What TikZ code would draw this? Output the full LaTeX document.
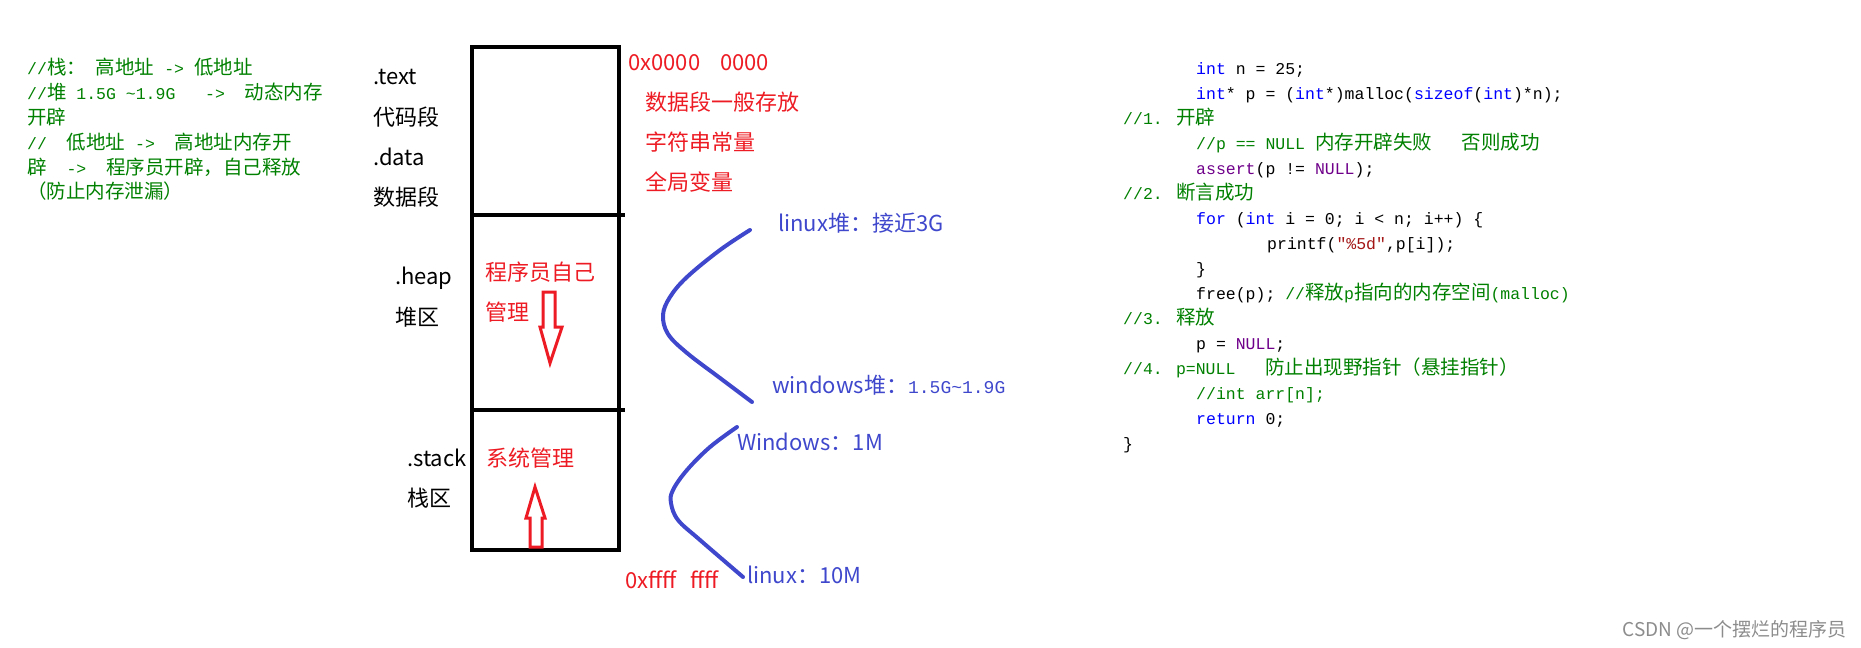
\documentclass[tikz,border=0pt]{standalone}
\usepackage{fontspec}
\newfontfamily\monof{Liberation Mono}
\newfontfamily\cjkf{Noto Sans CJK SC}
\definecolor{pblue}{RGB}{63,72,204}
\definecolor{pred}{RGB}{237,28,36}
\definecolor{cgreen}{RGB}{0,128,0}
\definecolor{kblue}{RGB}{0,0,255}
\definecolor{kpurple}{RGB}{111,0,138}
\definecolor{kstr}{RGB}{163,21,21}
\newcommand\zh[1]{{\cjkf\fontsize{19.5}{20}\selectfont #1}}
\newcommand\kw[1]{\textcolor{kblue}{#1}}
\newcommand\pp[1]{\textcolor{kpurple}{#1}}
\begin{document}
\begin{tikzpicture}[x=1pt,y=-1pt,
  code/.style={anchor=base west, inner sep=0pt, font=\monof\fontsize{16.5}{20}\selectfont},
  cmt/.style={code, text=cgreen},
  lbl/.style={anchor=west, inner sep=0pt, font=\cjkf\fontsize{22}{24}\selectfont},
  redlbl/.style={lbl, text=pred},
  bluelbl/.style={lbl, text=pblue},
  wall/.style={line width=4pt},
  curveline/.style={pblue, line width=4pt, line cap=round},
  hollow/.style={pred, line width=3pt, line join=miter}]
\useasboundingbox (0,0) rectangle (1861,648);

% left comments
\node[cmt] (l1) at (27,74) {//\zh{栈：}~\zh{高地址}~->~\zh{低地址}};
\node[cmt] (l2) at (27,99) {//\zh{堆}~1.5G~\textasciitilde1.9G~~~->~~\zh{动态内存}};
\node[cmt] (l3) at (27,124) {\zh{开辟}};
\node[cmt] (l4) at (27,149) {//~~\zh{低地址}~->~~\zh{高地址内存开}};
\node[cmt] (l5) at (27,174) {\zh{辟}~~->~~\zh{程序员开辟，自己释放}};
\node[cmt] (l6) at (27,198) {\zh{（防止内存泄漏）}};

% memory box
\draw[wall] (472,47) rectangle (619,550);
\draw[wall] (472,215) -- (625,215);
\draw[wall] (472,410) -- (625,410);

% black labels
\node[lbl] (ltext) at (373,77) {.text};
\node[lbl] (ldm) at (373,117) {代码段};
\node[lbl] (ldata) at (373,157) {.data};
\node[lbl] (lsj) at (373,197) {数据段};
\node[lbl] (lheap) at (395,278) {.heap};
\node[lbl] (ldq) at (395,317) {堆区};
\node[lbl] (lstack) at (407,458) {.stack};
\node[lbl] (lzq) at (407,498) {栈区};

% red labels
\node[redlbl] (a0) at (628,63) {0x0000\hspace{20pt}0000};
\node[redlbl] (r1) at (645,102) {数据段一般存放};
\node[redlbl] (r2) at (645,142) {字符串常量};
\node[redlbl] (r3) at (645,182) {全局变量};
\node[redlbl] (r4) at (485,272) {程序员自己};
\node[redlbl] (r5) at (485,312) {管理};
\node[redlbl] (r6) at (486,458) {系统管理};
\node[redlbl] (a1) at (625,580) {0xffff\hspace{14pt}ffff};

% hollow arrows
\draw[hollow] (543,292) -- (555,292) -- (555,327) -- (562,327) -- (550,363) -- (540,327) -- (543,327) -- cycle;
\draw[hollow] (530,547) -- (530,518) -- (526,518) -- (535,487) -- (545,518) -- (542,518) -- (542,547) -- cycle;

% blue curves
\draw[curveline] plot[smooth, tension=0.6] coordinates {(750,230) (720,250) (687,277) (670,297) (663,315) (668,334) (687,353) (720,378) (752,402)};
\draw[curveline] plot[smooth, tension=0.6] coordinates {(737,427) (710,447) (687,470) (673,490) (671,503) (678,520) (700,540) (743,577)};

% blue labels
\node[bluelbl] (b1) at (778,223) {linux堆：接近3G};
\node[bluelbl] (b2) at (772,385) {windows堆：{\monof\fontsize{18}{20}\selectfont 1.5G\textasciitilde1.9G}};
\node[bluelbl] (b3) at (737,442) {Windows：1M};
\node[bluelbl] (b4) at (747,575) {linux：10M};

% code
\node[code] (c1) at (1196,74) {\kw{int} n = 25;};
\node[code] (c2) at (1196,99) {\kw{int}* p = (\kw{int}*)malloc(\kw{sizeof}(\kw{int})*n);};
\node[cmt] (c3) at (1123,124) {//1. \zh{开辟}};
\node[cmt] (c4) at (1196,149) {//p == NULL \zh{内存开辟失败}~~~\zh{否则成功}};
\node[code] (c5) at (1196,174) {\pp{assert}(p != \pp{NULL});};
\node[cmt] (c6) at (1123,199) {//2. \zh{断言成功}};
\node[code] (c7) at (1196,224) {\kw{for} (\kw{int} i = 0; i < n; i++) \{};
\node[code] (c8) at (1267,249) {printf(\textcolor{kstr}{"\%5d"},p[i]);};
\node[code] (c9) at (1196,274) {\}};
\node[code] (c10) at (1196,299) {free(p); \textcolor{cgreen}{//\zh{释放}p\zh{指向的内存空间}(malloc)}};
\node[cmt] (c11) at (1123,324) {//3. \zh{释放}};
\node[code] (c12) at (1196,349) {p = \pp{NULL};};
\node[cmt] (c13) at (1123,374) {//4. p=NULL~~~\zh{防止出现野指针（悬挂指针）}};
\node[cmt] (c14) at (1196,399) {//int arr[n];};
\node[code] (c15) at (1196,424) {\kw{return} 0;};
\node[code] (c16) at (1123,449) {\}};

% watermark
\node[anchor=east, inner sep=0pt, font=\cjkf\fontsize{19}{20}\selectfont, text=black!45] (wm) at (1847,630) {CSDN @一个摆烂的程序员};
\end{tikzpicture}
\end{document}
